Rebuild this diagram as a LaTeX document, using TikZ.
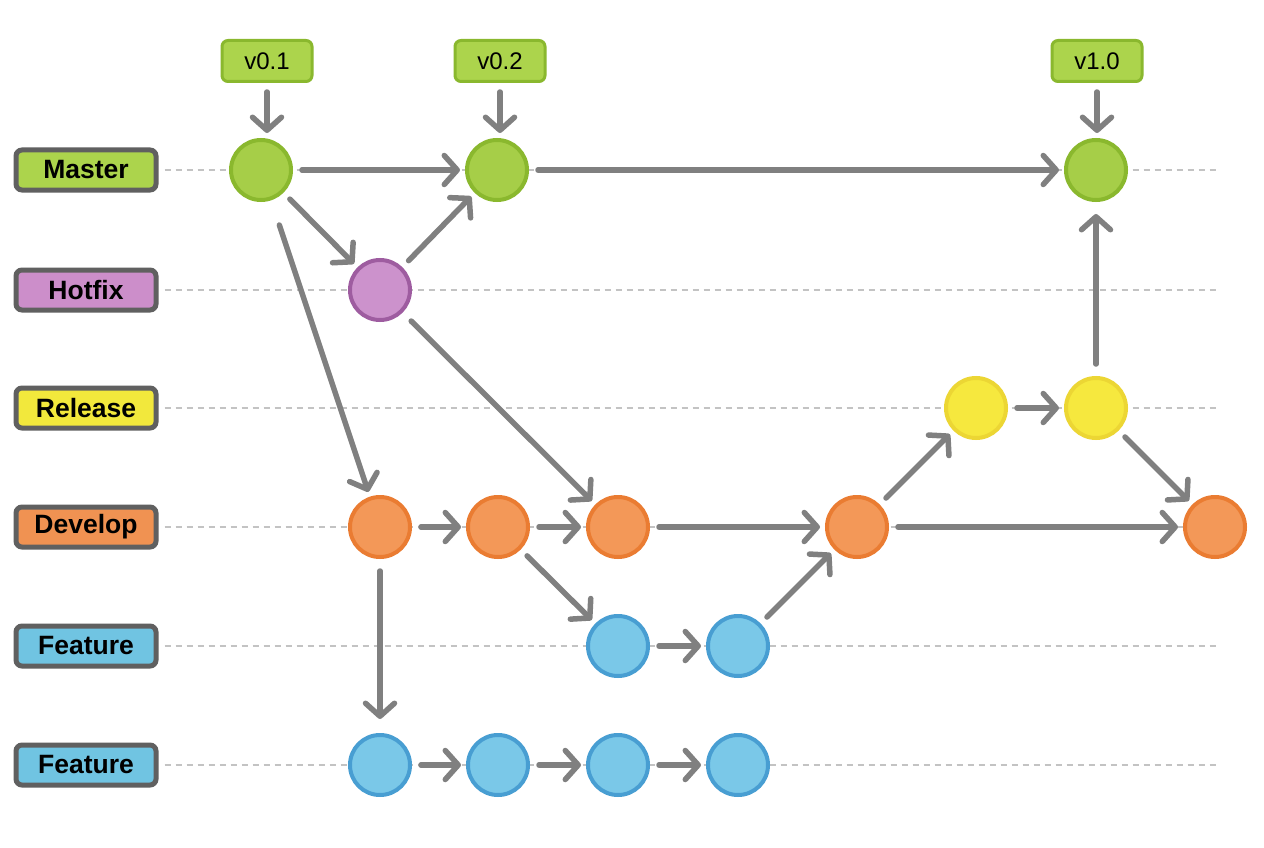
\documentclass[tikz,border=0pt]{standalone}
\usepackage{fontspec}
\setmainfont{Liberation Sans}
\usetikzlibrary{arrows.meta}
\definecolor{gfill}{RGB}{166,206,72}
\definecolor{gline}{RGB}{138,184,46}
\definecolor{pfill}{RGB}{204,146,204}
\definecolor{pline}{RGB}{158,92,160}
\definecolor{yfill}{RGB}{246,232,62}
\definecolor{yline}{RGB}{236,214,52}
\definecolor{ofill}{RGB}{243,152,88}
\definecolor{oline}{RGB}{234,124,50}
\definecolor{bfill}{RGB}{122,200,232}
\definecolor{bline}{RGB}{72,158,210}
\definecolor{lblgreen}{RGB}{172,212,76}
\definecolor{lblpurple}{RGB}{204,142,202}
\definecolor{lblyellow}{RGB}{242,232,60}
\definecolor{lblorange}{RGB}{240,146,82}
\definecolor{lblblue}{RGB}{112,196,226}
\definecolor{frame}{RGB}{96,96,96}
\definecolor{arrowgrey}{RGB}{128,128,128}
\definecolor{dashgrey}{RGB}{195,195,195}
\tikzset{
  lane/.style={rounded corners=6pt, draw=frame, line width=5pt, minimum width=140pt, minimum height=40pt, inner sep=0pt, font=\fontsize{26.5}{30}\selectfont\bfseries},
  tag/.style={rounded corners=6pt, draw=gline, fill=lblgreen, line width=3pt, minimum width=90pt, minimum height=41pt, inner sep=0pt, font=\fontsize{24}{28}\selectfont},
  commit/.style={circle, line width=4pt, minimum size=60pt, inner sep=0pt},
  cg/.style={commit, draw=gline, fill=gfill},
  cp/.style={commit, draw=pline, fill=pfill},
  cy/.style={commit, draw=yline, fill=yfill},
  co/.style={commit, draw=oline, fill=ofill},
  cb/.style={commit, draw=bline, fill=bfill},
  flow/.style={draw=arrowgrey, line width=5.5pt, line cap=round, -{Straight Barb[length=13pt,width=29pt,line cap=round,round]}, shorten <=9pt, shorten >=5pt},
  guide/.style={draw=dashgrey, line width=1.5pt, dash pattern=on 6pt off 5pt}
}
\begin{document}
\begin{tikzpicture}[x=1pt,y=-1pt]
\fill[white] (0,0) rectangle (1264,848);
\useasboundingbox (0,0) rectangle (1264,848);
% lane labels
\node[lane, fill=lblgreen] (lm) at (86,170) {Master};
\node[lane, fill=lblpurple] (lh) at (86,290) {Hotfix};
\node[lane, fill=lblyellow] (lr) at (86,408) {Release};
\node[lane, fill=lblorange] (ld) at (86,527) {Develop};
\node[lane, fill=lblblue] (lf) at (86,646) {Feature};
\node[lane, fill=lblblue] (lg) at (86,765) {Feature};
% guide line ends
\coordinate (em) at (1218,170);
\coordinate (eh) at (1218,290);
\coordinate (er) at (1218,408);
\coordinate (ed) at (1218,527);
\coordinate (ef) at (1218,646);
\coordinate (eg) at (1218,765);
\foreach \a/\b in {lm/em,lh/eh,lr/er,ld/ed,lf/ef,lg/eg}
  \draw[guide] ([xshift=6pt]\a.east) -- (\b);
% commits
\node[cg] (M1) at (261,170) {};
\node[cg] (M2) at (497,170) {};
\node[cg] (M3) at (1096,170) {};
\node[cp] (H) at (380,290) {};
\node[cy] (R1) at (976,408) {};
\node[cy] (R2) at (1096,408) {};
\node[co] (D1) at (380,527) {};
\node[co] (D2) at (498,527) {};
\node[co] (D3) at (618,527) {};
\node[co] (D4) at (857,527) {};
\node[co] (D5) at (1215,527) {};
\node[cb] (F1) at (618,646) {};
\node[cb] (F2) at (738,646) {};
\node[cb] (G1) at (380,765) {};
\node[cb] (G2) at (498,765) {};
\node[cb] (G3) at (618,765) {};
\node[cb] (G4) at (738,765) {};
% tags
\node[tag] (t1) at (267,61) {v0.1};
\node[tag] (t2) at (500,61) {v0.2};
\node[tag] (t3) at (1097,61) {v1.0};
\draw[flow] (t1.south) -- (t1.south |- M1.north);
\draw[flow] (t2.south) -- (t2.south |- M2.north);
\draw[flow] (t3.south) -- (t3.south |- M3.north);
% connectors
\draw[flow] (M1) -- (M2);
\draw[flow] (M2) -- (M3);
\draw[flow] (M1) -- (H);
\draw[flow] (H) -- (M2);
\draw[flow, shorten <=26pt] (M1) -- (D1);
\draw[flow, shorten <=12pt] (H) -- (D3);
\draw[flow] (D1) -- (D2);
\draw[flow] (D2) -- (D3);
\draw[flow] (D3) -- (D4);
\draw[flow] (D2) -- (F1);
\draw[flow, shorten <=12pt, shorten >=14pt] (D1) -- (G1);
\draw[flow] (F1) -- (F2);
\draw[flow] (F2) -- (D4);
\draw[flow] (D4) -- (R1);
\draw[flow] (R1) -- (R2);
\draw[flow, shorten <=12pt, shorten >=12pt] (R2) -- (M3);
\draw[flow] (R2) -- (D5);
\draw[flow] (D4) -- (D5);
\draw[flow] (G1) -- (G2);
\draw[flow] (G2) -- (G3);
\draw[flow] (G3) -- (G4);
\end{tikzpicture}
\end{document}
